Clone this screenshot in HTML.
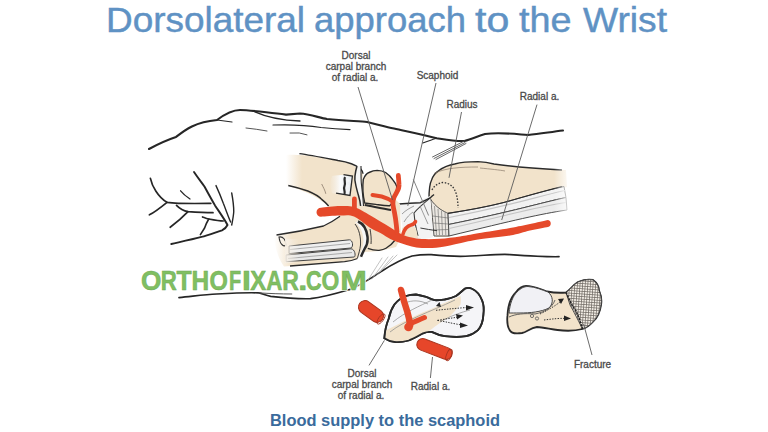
<!DOCTYPE html>
<html><head><meta charset="utf-8">
<style>
html,body{margin:0;padding:0;background:#fff;width:768px;height:432px;overflow:hidden}
svg{display:block}
text{font-family:"Liberation Sans",sans-serif}
</style></head>
<body>
<svg width="768" height="432" viewBox="0 0 768 432">
<defs>
<linearGradient id="fadeL1" x1="286" y1="0" x2="302" y2="0" gradientUnits="userSpaceOnUse">
<stop offset="0" stop-color="#f2e3cb" stop-opacity="0"/><stop offset="1" stop-color="#f2e3cb"/></linearGradient>
<linearGradient id="fadeL2" x1="274" y1="0" x2="292" y2="0" gradientUnits="userSpaceOnUse">
<stop offset="0" stop-color="#f2e3cb" stop-opacity="0"/><stop offset="1" stop-color="#f2e3cb"/></linearGradient>
<linearGradient id="fadeR" x1="548" y1="0" x2="568" y2="0" gradientUnits="userSpaceOnUse">
<stop offset="0" stop-color="#f2e3cb"/><stop offset="1" stop-color="#f2e3cb" stop-opacity="0.2"/></linearGradient>
<linearGradient id="tubeL" x1="285" y1="0" x2="299" y2="0" gradientUnits="userSpaceOnUse">
<stop offset="0" stop-color="#f6efe5" stop-opacity="0.95"/><stop offset="1" stop-color="#f6efe5" stop-opacity="0"/></linearGradient>
<linearGradient id="fadeW" x1="554" y1="0" x2="570" y2="0" gradientUnits="userSpaceOnUse">
<stop offset="0" stop-color="#fff" stop-opacity="0"/><stop offset="1" stop-color="#fff" stop-opacity="0.9"/></linearGradient>
<linearGradient id="cartG" x1="331" y1="0" x2="352" y2="0" gradientUnits="userSpaceOnUse">
<stop offset="0" stop-color="#f4f0ea" stop-opacity="0.2"/><stop offset="0.45" stop-color="#fafbfc"/><stop offset="1" stop-color="#e8ecf0"/></linearGradient>
<pattern id="hatch" width="2.6" height="2.6" patternUnits="userSpaceOnUse" patternTransform="rotate(4)">
<rect width="2.6" height="2.6" fill="#f3eee6"/>
<path d="M0.4,0 L0.4,2.6 M0,0.4 L2.6,0.4" stroke="#6f6a64" stroke-width="0.75"/>
</pattern>
</defs>
<rect width="768" height="432" fill="#fff"/>
<!-- Title -->
<g font-size="35" fill="#5f92c4" stroke="#5f92c4" stroke-width="0.45">
<text x="106" y="31.8" textLength="199" lengthAdjust="spacingAndGlyphs">Dorsolateral</text>
<text x="314" y="31.8" textLength="152" lengthAdjust="spacingAndGlyphs">approach</text>
<text x="475" y="31.8" textLength="34.3" lengthAdjust="spacingAndGlyphs">to</text>
<text x="519" y="31.8" textLength="52.5" lengthAdjust="spacingAndGlyphs">the</text>
<text x="583" y="31.8" textLength="84" lengthAdjust="spacingAndGlyphs">Wrist</text>
</g>
<!-- ===== Arm skin outline ===== -->
<g fill="none" stroke="#262626" stroke-linecap="round" stroke-linejoin="round">
<path stroke-width="2.1" d="M149,149 C160,143 170,139 176,137 C185,130 195,122 217,120 C225,114 232,110 240,110 C250,110 262,112 286,114.6 L300,113.5 C310,114 320,118 327,119 C345,121 360,121 367,122 C380,125 385,127 394,128.5 C410,132 425,135 436.7,138.2 C448,140 456,141.5 464.4,141 C472,139 478,136 485,134 C500,132 515,134 528,135 C540,134 550,132 563,130.5"/>
<path stroke-width="1.2" d="M217,120 L232,122"/>
<path stroke-width="1.3" d="M253,111 Q272,120 300,121"/>
<path stroke-width="1.2" d="M273,125 Q300,124 321,127.5 Q335,129 350,129.6"/>
<path stroke-width="1" stroke="#555" d="M246,128 Q256,129 267,131"/>
<path stroke-width="1" stroke="#555" d="M290,133 Q300,132 307,134.8"/>
<path stroke-width="1.1" d="M422.8,143 C428,141 432,139.5 436.7,138.2"/>
<path stroke-width="0.9" stroke="#555" d="M432.5,157 L464.4,141 M434,158.5 L465,142.5 M436,159.5 L466,143.5"/>
<!-- hand / fingers -->
<path stroke-width="1.7" d="M150.4,178.3 C152,186 158,197 167,202.3 C180,204 200,203.5 210.8,203.3"/>
<path stroke-width="1.7" d="M167,202.3 C160,208 155,212 149.4,214.8"/>
<path stroke-width="1.3" d="M180.6,190.8 C184,195 187,197 190,199"/>
<path stroke-width="1.7" d="M176.5,205.4 C180,209 184,211 188,211.7 C200,212.5 208,212.7 213,212.7"/>
<path stroke-width="1.7" d="M188,211.7 C182,218 176,223 170.2,227.3"/>
<path stroke-width="1.6" d="M202.5,216.9 C205,218 207,219 208.75,219 C214,220 220,221 223.3,221"/>
<path stroke-width="1.6" d="M208.75,219 C207,222 205.5,225 204.6,228 L200.4,234.6"/>
<path stroke-width="1.9" d="M194,172 C198,178 202,183 204.6,186.7 C209,195 212,200 215,205.4 C220,213 225,220 227.5,225 C226,228 224,229.5 222,230.4 C215,233 208,235 202.5,236.7 C190,240 180,242 171.25,244"/>
<path stroke-width="1.4" d="M216,185.6 C219,192 221,197 223.3,203.3 C226,210 228,216 230.6,222"/>
<path stroke-width="1.4" d="M231.7,193 C233,200 233.75,206 233.75,211.7 C233.5,216 232.5,221 231.7,225"/>
<!-- lower skin outline -->
<path stroke-width="1.7" d="M179,297.6 C195,296 205,294.5 216.8,294 C235,293 250,292.5 259,292.9 C263,294 266,295.5 270.7,296.4 C285,298 300,299 310.5,298.7 C325,297 338,293 350,289.4 C362,284.5 373,277 382,271 C392,264.5 402,259 412,256 C419,254.8 425,254.5 430,254.6 C445,256 455,257 470,256 C490,255 500,254 510,254.6 C530,256 545,257 559,256.7"/>
<path stroke-width="1" stroke="#555" d="M259,292.9 C270,293.5 280,294 291.8,294"/>
<path stroke-width="0.7" stroke="#aaa" d="M368,280 L382,258 M372,279 L388,257 M376,276 L393,256 M380,272 L397,255"/>
</g>

<!-- ===== Radius ===== -->
<path fill="#f2e3cb" d="M429,196 C429,188 430,183 431.6,180 C433,175.5 435,173 438.5,170.8 C443,167.5 448,165 454.7,164 C462,162 470,161.6 477.9,161.6 C485,162 490,163 494,164 C515,167 545,169 566,170 L567,187 C540,193 515,199 503.75,202.5 C485,207 465,211 448,213.6 L449,237 L436,237 C433,225 430,210 429,200 Z"/>
<path fill="none" stroke="#2b2b2b" stroke-width="1.4" d="M429,199 C429,188 430,183 431.6,180 C433,175.5 435,173 438.5,170.8 C443,167.5 448,165 454.7,164 C462,162 470,161.6 477.9,161.6 C485,162 490,163 494,164 C515,167 545,169 562,170"/>
<path fill="none" stroke="#8a7a6a" stroke-width="0.7" d="M434,173.5 C445,168 460,167 478,167 M480,168 C490,169 500,170 505,171"/>
<path fill="none" stroke="#333" stroke-width="1.3" stroke-dasharray="1.5,1.6" d="M432,190 C434,186 438,183 443,182.5 C450,183 454,187 456,193 C457.5,198 458,203 458,208"/>
<!-- radius distal hatched band -->
<path fill="#ebe7e1" stroke="#444" stroke-width="0.9" d="M430.5,199 C433,203 436,206 440,209 C443,211 446,212.5 448,213.3 L449,236 L434,236 C433,225 432,210 430.5,199 Z"/>
<path stroke="#666" stroke-width="0.6" d="M434.5,206 L436.5,235 M438,209 L439.5,235 M441.5,211 L442.5,235 M445,212.5 L445.8,235 M433,216 L448,218 M433.5,223 L448,224 M434,230 L448,229.5"/>

<!-- tendons on radius -->
<g stroke="#4a4a4a" stroke-width="1">
<path fill="#f2f2f2" d="M448,213.3 C470,210 490,206 503.75,202.5 C520,198 540,192 564,186.5 L566,197.5 C540,203 515,211 448.5,224.5 Z"/>
<path fill="#ececec" d="M448.5,224.5 C515,211 540,203 566,197.5 L567,210 C540,214 515,220 449,236 Z"/>
</g>
<path fill="none" stroke="#c4c4c4" stroke-width="1.2" d="M449,217.5 C510,206 535,197 565,190.5 M449,228.5 C510,215 535,207 566,202.5"/>
<path fill="none" stroke="#2b2b2b" stroke-width="1.2" d="M448,213.3 C470,210 490,206 503.75,202.5 C520,198 540,192 562,186.5"/>
<rect x="554" y="160" width="16" height="60" fill="url(#fadeW)"/>
<!-- scaphoid white region -->
<path fill="#f3f3f3" d="M399,204 C410,203 420,201 430,196 L431,204 L433,237 C425,240 412,240 404,236 Z"/>
<path fill="none" stroke="#3a3a3a" stroke-width="1.1" d="M430.6,197.6 C424,203 418,208 414,213 C414.5,218 415,222 415.4,224.4 C416,228 417,232 418,235.8"/>
<path fill="none" stroke="#3a3a3a" stroke-width="1" d="M420.4,228 C426,229 431,230 437,230.7"/>
<path fill="none" stroke="#888" stroke-width="0.8" d="M402,214 C406,210 410,208 414,206 M404,222 C407,217 410,214 413,212 M420,206 L428,224"/>
<path fill="#f2e3cb" d="M402,228 C406,226 412,226 416,228 L418,238 L404,238 Z"/>
<path fill="none" stroke="#2b2b2b" stroke-width="1.4" d="M398.8,204 C405,203.5 412,203 420.4,202.7 C424,201 428,199 430.6,197.6 C432,196 433,195.5 434,194.5"/>
<!-- ===== Carpal region beige base ===== -->
<path fill="#f2e3cb" d="M330,206 L356,175 L362,200 L396,200 L400,204 L401,237 L396,247 L380,251 L365,252 L357,259 L345,262 L340,216 Z"/>
<!-- Bone 1 -->
<path fill="url(#fadeL1)" d="M286,155 C300,153.6 319,157 338,160.5 C352,163.3 360.5,168.8 363,173.7 L360,206 L330,208 C321.7,199.4 307.8,191 286,185.5 Z"/>
<path fill="none" stroke="#2b2b2b" stroke-width="1.4" d="M299.4,153.6 C310,155 325,158 338,160.5 C348,162 356,165 360.5,168.8 C362,170.5 363,172 363,173.7"/>
<path fill="none" stroke="#2b2b2b" stroke-width="1.4" d="M288.3,185.5 C295,187 302,189 307.8,191 C315,194 320,197.5 321.7,199.4 C325,202 327,204 328.6,206"/>
<path fill="none" stroke="#8a7a6a" stroke-width="0.8" d="M321.7,184 C323,187 325,190 325.8,193.8"/>
<!-- cartilage -->
<path fill="url(#cartG)" d="M332,176 C340,175 346,174.5 352.4,176 L350,195.4 C345,194.5 340,194 332,193.2 C330,188 330,181 332,176 Z"/>
<path fill="none" stroke="#2b2b2b" stroke-width="1.3" d="M343.5,174.7 L352.4,176 L350,195.4 L336,193.2"/>
<path fill="none" stroke="#2b2b2b" stroke-width="2.2" d="M345,177 C343.5,180 346,183 344.5,186 C343,189 345.5,191 344.5,194"/>
<g fill="#f4f6f8"><circle cx="348" cy="180.5" r="1.5"/><circle cx="347.5" cy="186" r="1.5"/><circle cx="347.5" cy="191" r="1.5"/></g>
<!-- Bone 2 -->
<path fill="url(#fadeL2)" d="M274,236 C290,233 302.4,231 323.5,226 C330,223 335,220 340,216 L356,214 C362,220 366,232 365.6,245.5 C364,252 361,256 357.5,258.5 C350,261 346,261.7 344.6,261.7 L284,266.6 C278,258 274,245 274,236 Z"/>
<path fill="none" stroke="#2b2b2b" stroke-width="1.3" d="M276.5,235 C290,233 302.4,231 323.5,226 C330,223 335,220 340,216.3"/>
<path fill="none" stroke="#2b2b2b" stroke-width="1.3" d="M290,266 C310,264.5 330,263 344.6,261.7 C350,261 355,259.5 357.5,258.5"/>
<path fill="none" stroke="#333" stroke-width="1.1" d="M279,237 C283,236 286,240 286,245 C284,247 280,245 279,237 Z"/>
<!-- tubes -->
<g stroke="#444" stroke-width="1">
<path fill="#efefef" d="M289,246 L349.4,239.8 C353,240 353.5,247 351,248 L289,253.6 Z"/>
<path fill="#e9e9e9" d="M286,255 L351,248.8 C355,249 356,256 354.3,257 L286,261.7 Z"/>
</g>
<path fill="none" stroke="#999" stroke-width="0.8" d="M290,249.5 L350,243.5 M288,258.5 L352,252.5"/>
<rect x="285" y="239" width="14" height="24" fill="url(#tubeL)"/>
<!-- joints -->
<path fill="#f6f6f6" d="M357,166 C355,173 354.5,180 355.4,183 C356,187 357,190 357.6,192.4 C358.5,196 360,199 360.6,206 L363.5,206 C363,195 362,190 361.3,183 C361,180 361,175 361,166 Z"/>
<path fill="none" stroke="#2b2b2b" stroke-width="1.5" d="M357,166 C355,173 354.5,180 355.4,183 C356,187 357,190 357.6,192.4 C358.5,196 360,199 360.6,206"/>
<path fill="none" stroke="#2b2b2b" stroke-width="1.1" d="M361,166 C361,175 361,180 361.3,183 C362,190 363,195 363.5,206"/>
<path fill="#f6f6f6" d="M355,222 C360,226 363,232 363.5,240 C363.5,247 361,252 358,258 L361,258 C364,252 367,246 367,238 C366.5,230 363,224 358,221.5 Z"/>
<path fill="none" stroke="#2b2b2b" stroke-width="2.5" d="M358,221.5 C363,223.5 366.5,229 367.5,236.75 C368,242 366.5,246 365,248 C363.5,251 362,254 361,256.75"/>
<path fill="none" stroke="#2b2b2b" stroke-width="0.9" d="M355,224 C359,229 361,237 360.5,245 C360,250 358.5,254 357.5,258"/>
<path fill="none" stroke="#2b2b2b" stroke-width="0.9" d="M370,229 C371,234 371.5,240 371,244"/>
<!-- Carpal A -->
<path fill="#f2e3cb" stroke="#2b2b2b" stroke-width="1.4" d="M363.3,179.4 C365,175 366,173.5 369,172.5 C372,171 374,170.4 377.2,170.4 C380,170.5 383,171 385.6,172.5 C389,175 391,177 392.5,179.4 C394.5,182 396,184 396.7,186.4 C397,195 395,201 389.7,205.8 C385,206 380,205 375.8,204.4 C372,204 368,203.5 364.7,203 C363,196 362.5,186 363.3,179.4 Z"/>
<path fill="none" stroke="#2b2b2b" stroke-width="2" d="M364.7,205 C372,206.5 382,208 391,210"/>
<!-- Carpal B bottom outline -->
<path fill="none" stroke="#2b2b2b" stroke-width="1.3" d="M367.8,248.3 C372,250 376,250.5 379,250.4 C382,250 384,249.5 386,248.3 C390,246 393,243 396,239"/>

<!-- ===== Arteries ===== -->
<path fill="#e5492a" d="M321.0,207.7 C324.2,207.4 334.5,206.1 340.0,206.0 C345.5,205.9 349.0,205.5 354.0,207.0 C359.0,208.5 365.6,212.8 370.0,215.2 C374.4,217.6 376.9,219.4 380.4,221.5 C383.9,223.6 387.3,225.6 390.8,227.7 C394.3,229.8 397.8,232.3 401.2,234.0 C404.7,235.7 408.2,236.8 411.7,237.6 C415.2,238.4 417.3,238.8 422.0,239.0 C426.7,239.2 433.7,239.2 440.0,238.8 C446.3,238.4 453.7,237.4 460.0,236.5 C466.3,235.6 469.7,234.7 478.0,233.3 C486.3,231.9 501.3,229.6 510.0,228.0 C518.7,226.4 523.7,225.3 530.0,224.0 C536.3,222.7 545.0,220.7 548.0,220.0 A3.6,3.6 0 0 1 548.0,227.0 C545.0,227.6 536.3,229.1 530.0,230.5 C523.7,231.9 518.7,234.0 510.0,235.5 C501.3,237.0 486.3,238.2 478.0,239.5 C469.7,240.8 466.3,241.9 460.0,243.2 C453.7,244.5 446.3,246.4 440.0,247.2 C433.7,248.0 426.7,248.1 422.0,248.0 C417.3,247.9 415.2,247.3 411.7,246.5 C408.2,245.7 404.7,244.5 401.2,243.3 C397.8,242.1 394.3,240.9 390.8,239.2 C387.3,237.5 383.9,234.9 380.4,233.0 C376.9,231.1 374.4,230.4 370.0,227.7 C365.6,224.9 359.0,218.5 354.0,216.5 C349.0,214.5 345.5,215.5 340.0,215.5 C334.5,215.5 324.2,216.5 321.0,216.7 A4.5,4.5 0 0 1 321.0,207.7 Z"/>
<g fill="none" stroke="#e5492a" stroke-linecap="round" stroke-linejoin="round">
<path stroke-width="4.8" d="M354.4,208 L354.4,199"/>
<path stroke-width="4.8" d="M397,232 C396.5,226 395,214 393.5,208 C392.5,204 392.5,199 395.5,194.5 C398,190 399.5,188 399,184.5 C398.8,181 398.5,178 398.3,175.5"/>
<path stroke-width="4" d="M372.5,195 C376,195.5 379,196 381.7,196.5 C385.5,197.5 389,199 393,202"/>
<path stroke-width="3.6" d="M403,234 C404.5,229 407,226 411,225 C413,224.5 414.5,224 415.5,221.5"/>
</g>

<!-- ===== Leader lines ===== -->
<g stroke="#5a5a5a" stroke-width="0.9" fill="none">
<path d="M358,87 L392.5,200"/>
<path d="M436,83 L407.8,205.8"/>
<path d="M461.5,112 L449,177.8"/>
<path d="M537,104.6 L501.7,220"/>
<path stroke="#777" d="M413.3,179.4 L428.6,215.5"/>
</g>

<!-- ===== Labels ===== -->
<g font-size="10" fill="#4a4a4a" stroke="#4a4a4a" stroke-width="0.3" text-anchor="middle">
<text x="356" y="58.8">Dorsal</text>
<text x="356" y="70.0">carpal branch</text>
<text x="355" y="80.8">of radial a.</text>
<text x="437.5" y="78.5">Scaphoid</text>
<text x="462" y="107.5">Radius</text>
<text x="539.5" y="99.5">Radial a.</text>
<text x="362" y="376.8">Dorsal</text>
<text x="362" y="387.8">carpal branch</text>
<text x="361" y="399.2">of radial a.</text>
<text x="430.5" y="389.9">Radial a.</text>
<text x="592.5" y="368.0">Fracture</text>
</g>

<!-- ===== Scaphoid 1 ===== -->
<path fill="#f5f5f8" stroke="#2a2a2a" stroke-width="1.8" d="M384.3,338.3 C385,330 386,325 388.6,319 C390,312 392,308 394.4,304.5 C398,300 402,297.5 405.9,296 C409,295 413,294.5 416,294.5 C420,295 424,296.5 427.4,297.4 C430,298.5 432,299.5 434.6,300.2 C438,300.5 441,300 444.7,299.5 C449,298.5 453,297.5 456,296 C459,294 462,291 464.8,288.7 C467,287.8 470,287.8 472,288.7 C477,291 480,295 482,300.2 C484,305 484,310 483.4,314.6 C483,322 481,327 477.7,330.4 C474,333.5 470,335.5 466.2,336.2 C459,337.5 451,337 444.7,336.2 C440,335.5 435,333.5 431.7,331.9 C428,331.5 426,332 423,333.3 C418,336 413,339 408.7,340.5 C403,342 398,342.5 394.4,341.9 C390,341.5 387,340 384.3,338.3 Z"/>
<path fill="#f2e3cb" d="M385.5,337 C386,333 386,331 385.7,330.4 C393,327 400,323 408.7,319 C418,314 426,311 434.6,307.4 C444,303 452,300 460.5,296 C461,299 461,302 460.5,304.5 C456,310 452,314 449,317.5 C445,320 441,322 437.5,324.7 C434,327 431,330 427.4,331.9 C420,334 414,338 408.7,340.5 C402,342 394,342 390,341 C387,340 386,339 385.5,337 Z"/>
<path fill="none" stroke="#888" stroke-width="0.7" d="M390,332 C405,320 430,312 455,300 M393,322 C405,312 420,306 432,300 M440,322 C450,316 462,312 470,310 M405,303 C412,300 420,300 428,304"/>
<path fill="none" stroke="#2a2a2a" stroke-width="1.8" d="M384.3,338.3 C385,330 386,325 388.6,319 C390,312 392,308 394.4,304.5 C398,300 402,297.5 405.9,296 C409,295 413,294.5 416,294.5 C420,295 424,296.5 427.4,297.4 C430,298.5 432,299.5 434.6,300.2 C438,300.5 441,300 444.7,299.5 C449,298.5 453,297.5 456,296 C459,294 462,291 464.8,288.7 C467,287.8 470,287.8 472,288.7 C477,291 480,295 482,300.2 C484,305 484,310 483.4,314.6 C483,322 481,327 477.7,330.4 C474,333.5 470,335.5 466.2,336.2 C459,337.5 451,337 444.7,336.2 C440,335.5 435,333.5 431.7,331.9 C428,331.5 426,332 423,333.3 C418,336 413,339 408.7,340.5 C403,342 398,342.5 394.4,341.9 C390,341.5 387,340 384.3,338.3 Z"/>
<g fill="#e6462a" stroke="#a8341e" stroke-width="1">
<rect x="357" y="305" width="28" height="13" rx="6.5" transform="rotate(36 371 311.5)"/>
<rect x="416" y="343" width="37" height="12" rx="6" transform="rotate(21 434.5 349)"/>
</g>
<g fill="none" stroke="#a83420" stroke-width="0.9">
<ellipse cx="381" cy="319" rx="2.5" ry="6" transform="rotate(36 381 319)"/>
<ellipse cx="449" cy="355" rx="2.5" ry="6" transform="rotate(21 449 355)"/>
</g>
<g fill="none" stroke="#e5492a" stroke-linecap="round">
<path stroke-width="6.5" d="M401,290 C403,298 405,305 407.3,311.7 C408.5,316 409.5,320 410.2,325"/>
<path stroke-width="5" d="M409,324 C414,322 419,320 424.5,317.5"/>
</g>
<circle cx="408.5" cy="327" r="4.3" fill="#e5492a"/>
<g fill="none" stroke="#333" stroke-width="1" stroke-dasharray="1.4,1.3">
<path d="M436,310.3 C448,309 460,308 468,307.4"/>
<path d="M437.5,320.4 C445,319 452,318 459,317"/>
<path d="M437.5,320.4 C447,322 455,324 462,325"/>
</g>
<g fill="#222">
<path d="M466,305 L474,307.5 L466,310.5 Z"/>
<path d="M456,314 L463,315.5 L457,319.5 Z"/>
<path d="M460,322.5 L468,325.4 L460,328 Z"/>
<path d="M436,306 L439.5,302 L441,307 Z"/>
</g>
<path fill="none" stroke="#5a5a5a" stroke-width="0.9" d="M384.4,340.4 L369,365.4"/>
<path fill="none" stroke="#5a5a5a" stroke-width="0.9" d="M432.5,357 L430.4,378"/>

<!-- ===== Scaphoid 2 ===== -->
<path fill="#f2e3cb" stroke="#2a2a2a" stroke-width="1.8" d="M507.5,315.4 C508,305 511,297 515.8,292.5 C519,288 522,286 526,286 C535,286 541,290 547,291.5 C555,293 560,293 566,292.5 C570,290 573,285 578,282 C583,280 588,279 593,280 C597,283 599,287 599,290.4 C601,295 602,300 601,305 C600,312 597,318 593,321.7 C590,325 586,328 582.5,329 C575,331 565,331 557.5,330 C550,329 542,327 537,327 C530,328 527,332 522,333 C516,334 511,333 509.6,330 C507,326 507,320 507.5,315.4 Z"/>
<path fill="#f1f1f5" stroke="#444" stroke-width="1" d="M509,313 C510,303 513,296 517,292 C521,288 524,286.5 528,286.5 C536,287 542,290 548,292 C553,296 554,303 549,308 C541,312 530,313 520,313 C515,313 511,313 509,313 Z"/>
<path fill="none" stroke="#555" stroke-width="0.9" d="M509,317 C515,314 525,313 535,314 C545,312 552,308 555,300"/>
<path fill="url(#hatch)" stroke="#444" stroke-width="0.9" d="M566,292.5 C570,290 573,285 578,282 C583,280 588,279 593,280 C597,283 599,287 599,290.4 C601,295 602,300 601,305 C600,312 597,318 593,321.7 C590,325 586,328 582.5,329 C578,320 574,312 570,305 Z"/>
<path fill="none" stroke="#222" stroke-width="1.6" stroke-dasharray="2.2,1" d="M566,292.5 L569,299 L572,305 L576,311 L579,318 L582.5,329"/>
<g fill="none" stroke="#333" stroke-width="1" stroke-dasharray="1.4,1.3">
<path d="M540,314 C548,310 555,306 560,302"/>
<path d="M544,320 C552,319 560,318 566,318.5"/>
</g>
<g fill="#222">
<path d="M558,299 L564,298.5 L561,304 Z"/>
<path d="M564,315.5 L571,318.5 L564,321 Z"/>
</g>
<circle cx="532" cy="316" r="1.6" fill="none" stroke="#555" stroke-width="0.8"/>
<circle cx="537" cy="318.5" r="1.6" fill="none" stroke="#555" stroke-width="0.8"/>
<path fill="none" stroke="#5a5a5a" stroke-width="0.9" d="M583.5,323.75 L592,355"/>

<!-- ===== Watermark ===== -->
<g font-size="27" font-weight="bold" fill="none" stroke="#fff" stroke-width="2.2" stroke-linejoin="round" opacity="0.9">
<text x="141.03" y="289.5" lengthAdjust="spacingAndGlyphs" textLength="20.37">O</text>
<text x="160.71" y="289.5" lengthAdjust="spacingAndGlyphs" textLength="16.04">R</text>
<text x="176.42" y="289.5" lengthAdjust="spacingAndGlyphs" textLength="15.14">T</text>
<text x="191.56" y="289.5" lengthAdjust="spacingAndGlyphs" textLength="17.69">H</text>
<text x="209.43" y="289.5" lengthAdjust="spacingAndGlyphs" textLength="18.36">O</text>
<text x="229.07" y="289.5" lengthAdjust="spacingAndGlyphs" textLength="12.16">F</text>
<text x="241.96" y="289.5" lengthAdjust="spacingAndGlyphs" textLength="8.87">I</text>
<text x="250.29" y="289.5" lengthAdjust="spacingAndGlyphs" textLength="15.92">X</text>
<text x="266.34" y="289.5" lengthAdjust="spacingAndGlyphs" textLength="16.15">A</text>
<text x="282.16" y="289.5" lengthAdjust="spacingAndGlyphs" textLength="16.61">R</text>
<text x="298.29" y="289.5" lengthAdjust="spacingAndGlyphs" textLength="9.06">.</text>
<text x="306.02" y="289.5" lengthAdjust="spacingAndGlyphs" textLength="15.57">C</text>
<text x="321.46" y="289.5" lengthAdjust="spacingAndGlyphs" textLength="17.80">O</text>
<text x="340.27" y="289.5" lengthAdjust="spacingAndGlyphs" textLength="26.57">M</text>
</g>
<g font-size="27" font-weight="bold" fill="#80bf62" stroke="#6fa856" stroke-width="0.5">
<text x="141.03" y="289.5" lengthAdjust="spacingAndGlyphs" textLength="20.37">O</text>
<text x="160.71" y="289.5" lengthAdjust="spacingAndGlyphs" textLength="16.04">R</text>
<text x="176.42" y="289.5" lengthAdjust="spacingAndGlyphs" textLength="15.14">T</text>
<text x="191.56" y="289.5" lengthAdjust="spacingAndGlyphs" textLength="17.69">H</text>
<text x="209.43" y="289.5" lengthAdjust="spacingAndGlyphs" textLength="18.36">O</text>
<text x="229.07" y="289.5" lengthAdjust="spacingAndGlyphs" textLength="12.16">F</text>
<text x="241.96" y="289.5" lengthAdjust="spacingAndGlyphs" textLength="8.87">I</text>
<text x="250.29" y="289.5" lengthAdjust="spacingAndGlyphs" textLength="15.92">X</text>
<text x="266.34" y="289.5" lengthAdjust="spacingAndGlyphs" textLength="16.15">A</text>
<text x="282.16" y="289.5" lengthAdjust="spacingAndGlyphs" textLength="16.61">R</text>
<text x="298.29" y="289.5" lengthAdjust="spacingAndGlyphs" textLength="9.06">.</text>
<text x="306.02" y="289.5" lengthAdjust="spacingAndGlyphs" textLength="15.57">C</text>
<text x="321.46" y="289.5" lengthAdjust="spacingAndGlyphs" textLength="17.80">O</text>
<text x="340.27" y="289.5" lengthAdjust="spacingAndGlyphs" textLength="26.57">M</text>
</g>

<!-- Caption -->
<text x="270" y="425.5" font-size="16.2" font-weight="bold" fill="#3a6b9c" textLength="230" lengthAdjust="spacingAndGlyphs">Blood supply to the scaphoid</text>
</svg>
</body></html>
